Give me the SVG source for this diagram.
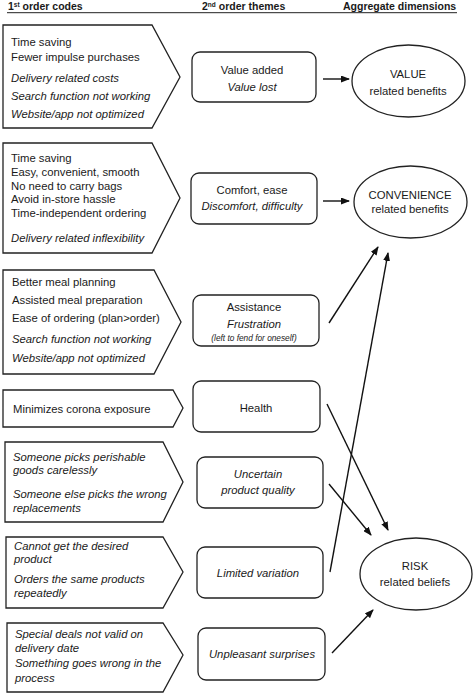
<svg xmlns="http://www.w3.org/2000/svg" width="474" height="694" viewBox="0 0 474 694">
<defs>
<marker id="ah" markerWidth="9" markerHeight="7" refX="8" refY="3.5" orient="auto" markerUnits="userSpaceOnUse">
<path d="M0,0 L9,3.5 L0,7 z" fill="#111"/>
</marker>
<style>
text{font-family:"Liberation Sans",Arial,sans-serif;fill:#1a1a1a;font-size:11.3px}
.h{font-weight:bold;font-size:10.5px}
.sup{font-size:6.5px}
.i{font-style:italic}
.c{text-anchor:middle}
.s{font-size:8.3px;font-style:italic}
.shape{fill:#fff;stroke:#222;stroke-width:1.3}
.conn line{stroke:#111;stroke-width:1.4;marker-end:url(#ah)}
</style>
</defs>
<rect width="474" height="694" fill="#fff"/>
<g id="header">
<text class="h" x="8" y="10">1<tspan class="sup" dy="-3.5">st</tspan><tspan dy="3.5"> order codes</tspan></text>
<text class="h" x="202" y="10">2<tspan class="sup" dy="-3.5">nd</tspan><tspan dy="3.5"> order themes</tspan></text>
<text class="h" x="343" y="10">Aggregate dimensions</text>
<line x1="7" y1="12.7" x2="457" y2="12.7" stroke="#222" stroke-width="1"/>
</g>
<g id="codes1">
<path class="shape" d="M3,25 L152,25 L180,77 L152,128 L3,128 Z"/>
<text x="11" y="46">Time saving</text>
<text x="11" y="61">Fewer impulse purchases</text>
<text class="i" x="11" y="82">Delivery related costs</text>
<text class="i" x="11" y="100">Search function not working</text>
<text class="i" x="11" y="118">Website/app not optimized</text>
</g>
<g id="codes2">
<path class="shape" d="M3,143 L152,143 L180,198 L152,253 L3,253 Z"/>
<text x="11" y="162">Time saving</text>
<text x="11" y="176">Easy, convenient, smooth</text>
<text x="11" y="189.5">No need to carry bags</text>
<text x="11" y="203">Avoid in-store hassle</text>
<text x="11" y="217">Time-independent ordering</text>
<text class="i" x="11" y="242">Delivery related inflexibility</text>
</g>
<g id="codes3">
<path class="shape" d="M3,270 L154,270 L181,322 L154,374 L3,374 Z"/>
<text x="12" y="286">Better meal planning</text>
<text x="12" y="304">Assisted meal preparation</text>
<text x="12" y="322">Ease of ordering (plan&gt;order)</text>
<text class="i" x="12" y="343">Search function not working</text>
<text class="i" x="12" y="362">Website/app not optimized</text>
</g>
<g id="codes4">
<path class="shape" d="M3,390 L173,390 L183,408 L173,427 L3,427 Z"/>
<text x="13" y="413">Minimizes corona exposure</text>
</g>
<g id="codes5">
<path class="shape" d="M5,442 L163,442 L183,482 L163,522 L5,522 Z"/>
<text class="i" x="13" y="461">Someone picks perishable</text>
<text class="i" x="13" y="474">goods carelessly</text>
<text class="i" x="13" y="498">Someone else picks the wrong</text>
<text class="i" x="13" y="512">replacements</text>
</g>
<g id="codes6">
<path class="shape" d="M6,537 L163,537 L183,572 L163,608 L6,608 Z"/>
<text class="i" x="14" y="550">Cannot get the desired</text>
<text class="i" x="14" y="563">product</text>
<text class="i" x="14" y="583">Orders the same products</text>
<text class="i" x="14" y="597">repeatedly</text>
</g>
<g id="codes7">
<path class="shape" d="M7,623 L163,623 L183,655 L163,692 L7,692 Z"/>
<text class="i" x="15" y="638">Special deals not valid on</text>
<text class="i" x="15" y="652">delivery date</text>
<text class="i" x="15" y="667">Something goes wrong in the</text>
<text class="i" x="15" y="682">process</text>
</g>
<g id="theme-value">
<rect class="shape" x="192" y="52" width="124" height="50" rx="8"/>
<text class="c" x="252" y="74">Value added</text>
<text class="c i" x="252" y="91">Value lost</text>
</g>
<g id="theme-comfort">
<rect class="shape" x="191" y="173" width="126" height="51" rx="8"/>
<text class="c" x="252" y="194">Comfort, ease</text>
<text class="c i" x="252" y="210">Discomfort, difficulty</text>
</g>
<g id="theme-assistance">
<rect class="shape" x="193" y="295" width="126" height="51" rx="8"/>
<text class="c" x="254" y="311">Assistance</text>
<text class="c i" x="254" y="328">Frustration</text>
<text class="c s" x="254" y="340.5">(left to fend for oneself)</text>
</g>
<g id="theme-health">
<rect class="shape" x="193" y="381" width="127" height="51" rx="8"/>
<text class="c" x="256" y="412">Health</text>
</g>
<g id="theme-quality">
<rect class="shape" x="197" y="457" width="126" height="51" rx="8"/>
<text class="c i" x="258" y="478">Uncertain</text>
<text class="c i" x="258" y="494">product quality</text>
</g>
<g id="theme-variation">
<rect class="shape" x="197" y="547" width="126" height="51" rx="8"/>
<text class="c i" x="258" y="577">Limited variation</text>
</g>
<g id="theme-surprises">
<rect class="shape" x="198" y="628" width="127" height="52" rx="8"/>
<text class="c i" x="262" y="658">Unpleasant surprises</text>
</g>
<g id="dim-value">
<ellipse class="shape" cx="408.5" cy="81" rx="56.5" ry="36"/>
<text class="c" x="408" y="78">VALUE</text>
<text class="c" x="408" y="95">related benefits</text>
</g>
<g id="dim-convenience">
<ellipse class="shape" cx="410.5" cy="202" rx="56.5" ry="36"/>
<text class="c" x="410" y="199">CONVENIENCE</text>
<text class="c" x="410" y="213">related benefits</text>
</g>
<g id="dim-risk">
<ellipse class="shape" cx="416" cy="574" rx="56" ry="36"/>
<text class="c" x="415" y="570">RISK</text>
<text class="c" x="415" y="586">related beliefs</text>
</g>
<g id="connectors" class="conn">
<line x1="323" y1="79" x2="349" y2="79"/>
<line x1="323" y1="201" x2="349" y2="201"/>
<line x1="329" y1="323" x2="378" y2="247"/>
<line x1="330" y1="572" x2="388" y2="253"/>
<line x1="327" y1="404" x2="388" y2="530"/>
<line x1="329" y1="484" x2="371" y2="535"/>
<line x1="332" y1="653" x2="373" y2="610"/>
</g>
</svg>
